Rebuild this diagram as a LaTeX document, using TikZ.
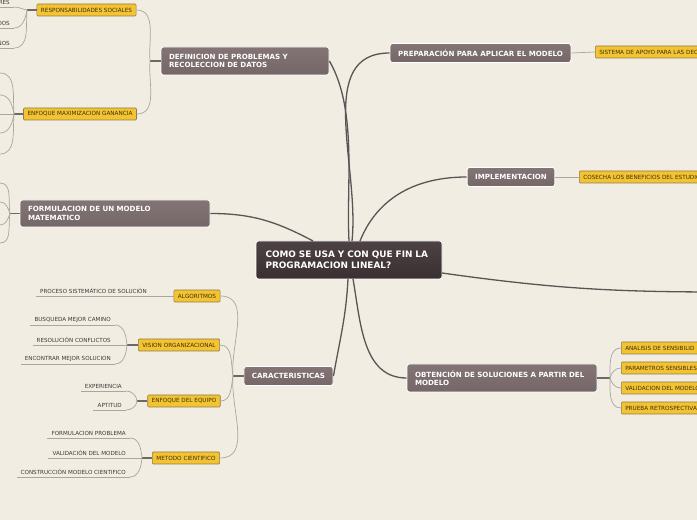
\documentclass[tikz,border=0pt]{standalone}
\usepackage{fontspec}
\setmainfont{DejaVu Sans}
\definecolor{paper}{HTML}{F2EDE3}
\definecolor{rootA}{HTML}{4D4244}
\definecolor{rootB}{HTML}{3A3032}
\definecolor{topicA}{HTML}{837476}
\definecolor{topicB}{HTML}{756668}
\definecolor{subfill}{HTML}{F4C331}
\definecolor{subedge}{HTML}{8C7C4A}
\definecolor{subtext}{HTML}{3A3115}
\definecolor{leaftext}{HTML}{3C3A38}
\definecolor{mainline}{HTML}{5A5455}
\definecolor{stubline}{HTML}{6E6866}
\definecolor{thinline}{HTML}{ABA59D}

\begin{document}
\begin{tikzpicture}[x=1pt,y=1pt]
\useasboundingbox (0,0) rectangle (697,520);
\fill[paper] (0,0) rectangle (697,520);

\begin{scope}[every node/.style={draw=white,line width=0.8pt,rounded corners=2.5pt,top color=topicA,bottom color=topicB,
              text=white,font=\bfseries\fontsize{7.1}{8.4}\selectfont,inner xsep=8pt,minimum height=19pt}]
    \node[top color=rootA,bottom color=rootB,font=\bfseries\fontsize{8.9}{10.8}\selectfont,
          text width=167pt,inner xsep=9.5pt,align=left,minimum height=38pt] (root) at (349,260)
          {COMO SE USA Y CON QUE FIN LA\\PROGRAMACION LINEAL?};
    \node[text width=152pt,align=left,minimum height=28pt] (def) at (245,459) {DEFINICION DE PROBLEMAS Y\\RECOLECCION DE DATOS};
    \node (prep) at (480.5,467) {PREPARACIÓN PARA APLICAR EL MODELO};
    \node (impl) at (511,343) {IMPLEMENTACION};
    \node[text width=174pt,align=left,minimum height=27pt] (form) at (115,306.5) {FORMULACION DE UN MODELO\\MATEMATICO};
    \node (carac) at (288.5,144) {CARACTERISTICAS};
    \node[text width=174pt,align=left,minimum height=28pt] (obt) at (502,142) {OBTENCIÓN DE SOLUCIONES A PARTIR DEL\\MODELO};
\end{scope}

\begin{scope}[every node/.style={draw=subedge,line width=0.6pt,rounded corners=1pt,fill=subfill,text=subtext,
              font=\fontsize{5.7}{6.5}\selectfont,inner xsep=4pt,minimum height=12pt}]
    \node (resp) at (86.5,510) {RESPONSABILIDADES SOCIALES};
    \node (maxg) at (80,406) {ENFOQUE MAXIMIZACION GANANCIA};
    \node[anchor=west,text width=140pt,align=left] (apoyo) at (595,468) {SISTEMA DE APOYO PARA LAS DEC};
    \node[anchor=west,text width=140pt,align=left] (cosecha) at (579,343) {COSECHA LOS BENEFICIOS DEL ESTUDIO};
    \node[anchor=west,text width=100pt,align=left] (anal) at (621,172) {ANALISIS DE SENSIBILID};
    \node[anchor=west,text width=100pt,align=left] (param) at (621,152) {PARAMETROS SENSIBLES};
    \node[anchor=west,text width=100pt,align=left] (valid) at (621,132) {VALIDACION DEL MODELO};
    \node[anchor=west,text width=100pt,align=left] (prueba) at (621,112) {PRUEBA RETROSPECTIVA};
    \node (algo) at (197,224) {ALGORITMOS};
    \node (vision) at (179,175) {VISION ORGANIZACIONAL};
    \node (equipo) at (184,119) {ENFOQUE DEL EQUIPO};
    \node (metodo) at (186,62) {METODO CIENTIFICO};
\end{scope}

\begin{scope}[every node/.style={anchor=south east,text=leaftext,font=\fontsize{5.6}{6.4}\selectfont,inner xsep=4pt,inner ysep=2pt}]
    \node (proc) at (151,224) {PROCESO SISTEMÁTICO DE SOLUCIÓN};
    \node (busq) at (115,195) {BUSQUEDA MEJOR CAMINO};
    \node (resol) at (115,175) {RESOLUCIÓN CONFLICTOS};
    \node (encon) at (115,156) {ENCONTRAR MEJOR SOLUCION};
    \node (exper) at (126,129) {EXPERIENCIA};
    \node (apti) at (126,110) {APTITUD};
    \node (fprob) at (130,82) {FORMULACION PROBLEMA};
    \node (valm) at (130,62) {VALIDACIÓN DEL MODELO};
    \node (cmod) at (130,43) {CONSTRUCCIÓN MODELO CIENTIFICO};
    \node (lres) at (14,513) {RES};
    \node (ldos) at (14,492) {DOS};
    \node (lnos) at (14,472) {ÑOS};
\end{scope}

\coordinate (rtopA) at (349,279);
\coordinate (rtopB) at (352,279);
\coordinate (rtopC) at (360,279);
\coordinate (rtopD) at (313,279);
\coordinate (rbotA) at (348,241);
\coordinate (rbotB) at (353,241);
\coordinate (rside) at (442,247);
\coordinate (far) at (720,228);
\coordinate (jdef) at (150,459);
\coordinate (jcar) at (233,144);
\coordinate (jobt) at (610,142);
\coordinate (jres) at (27,510);
\coordinate (jmax) at (14,406);
\coordinate (jform) at (10,306.5);
\coordinate (jvis) at (127,175);
\coordinate (jequ) at (137,119);
\coordinate (jmet) at (142,62);
\coordinate (m1) at (0,447);
\coordinate (m2) at (0,425);
\coordinate (m3) at (0,406);
\coordinate (m4) at (0,387);
\coordinate (m5) at (0,366);
\coordinate (f1) at (0,337);
\coordinate (f2) at (0,318);
\coordinate (f3) at (0,295);
\coordinate (f4) at (0,277);

\begin{scope}[every edge/.style={draw=mainline,line width=1.3pt}]
    \path (def.east) edge[out=-60,in=93,looseness=0.8] (rtopA);
    \path (rtopB) edge[out=84,in=180] (prep.west);
    \path (rtopC) edge[out=68,in=180] (impl.west);
    \path (rtopD) edge[out=152,in=0] (form.east);
    \path (rbotA) edge[out=-93,in=80] (carac.east);
    \path (rbotB) edge[out=-80,in=180] (obt.west);
    \path (rside) edge[out=-8,in=180] (far);
\end{scope}

\begin{scope}[every edge/.style={draw=stubline,line width=1.1pt}]
    \path (def.west) edge (jdef);
    \path (carac.west) edge (jcar);
    \path (obt.east) edge (jobt);
    \path (resp.west) edge (jres);
    \path (maxg.west) edge (jmax);
    \path (form.west) edge (jform);
    \path (vision.west) edge (jvis);
    \path (equipo.west) edge (jequ);
    \path (metodo.west) edge (jmet);
\end{scope}

\begin{scope}[every edge/.style={draw=thinline,line width=0.7pt}]
    \path (prep.east) edge (apoyo.west);
    \path (impl.east) edge (cosecha.west);
    \path (jdef) edge[out=95,in=0] (resp.east);
    \path (jdef) edge[out=-95,in=0] (maxg.east);
    \path (jcar) edge[out=95,in=0] (algo.east);
    \path (jcar) edge[out=100,in=0] (vision.east);
    \path (jcar) edge[out=-100,in=0] (equipo.east);
    \path (jcar) edge[out=-95,in=0] (metodo.east);
    \path (jobt) edge[out=90,in=180] (anal.west);
    \path (jobt) edge[out=75,in=180] (param.west);
    \path (jobt) edge[out=-75,in=180] (valid.west);
    \path (jobt) edge[out=-90,in=180] (prueba.west);
    \path (algo.west) edge (proc.south west);
    \path (jvis) edge[out=95,in=0] (busq.south east) (busq.south east) edge (busq.south west);
    \path (jvis) edge (resol.south west);
    \path (jvis) edge[out=-95,in=0] (encon.south east) (encon.south east) edge (encon.south west);
    \path (jequ) edge[out=95,in=0] (exper.south east) (exper.south east) edge (exper.south west);
    \path (jequ) edge[out=-95,in=0] (apti.south east) (apti.south east) edge (apti.south west);
    \path (jmet) edge[out=95,in=0] (fprob.south east) (fprob.south east) edge (fprob.south west);
    \path (jmet) edge (valm.south west);
    \path (jmet) edge[out=-95,in=0] (cmod.south east) (cmod.south east) edge (cmod.south west);
    \path (jres) edge[out=170,in=0] (lres.south east) (lres.south east) edge (lres.south west);
    \path (jres) edge[out=-100,in=0] (ldos.south east) (ldos.south east) edge (ldos.south west);
    \path (jres) edge[out=-95,in=0] (lnos.south east) (lnos.south east) edge (lnos.south west);
    \path (jmax) edge[out=95,in=0] (m1);
    \path (jmax) edge[out=100,in=0] (m2);
    \path (jmax) edge (m3);
    \path (jmax) edge[out=-100,in=0] (m4);
    \path (jmax) edge[out=-95,in=0] (m5);
    \path (jform) edge[out=100,in=0] (f1);
    \path (jform) edge[out=110,in=0] (f2);
    \path (jform) edge[out=-110,in=0] (f3);
    \path (jform) edge[out=-100,in=0] (f4);
\end{scope}
\end{tikzpicture}
\end{document}
